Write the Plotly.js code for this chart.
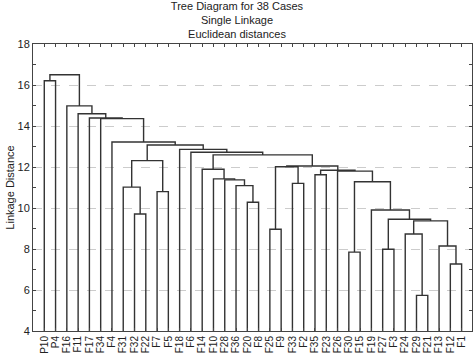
<!DOCTYPE html>
<html><head><meta charset="utf-8">
<script src="https://cdn.plot.ly/plotly-3.0.1.min.js"></script>
<style>html,body{margin:0;padding:0;background:#fff}#chart{width:474px;height:353px}</style>
</head><body><div id="chart"></div>
<script>
// Leaf order along the x axis
const leafLabels = ["P10","P4","F16","F11","F17","F34","F4","F31","F32","F22","F7","F5",
  "F18","F6","F14","F10","F28","F36","F20","F8","F25","F9","F33","F2","F35","F23","F26",
  "F30","F15","F19","F27","F3","F24","F29","F21","F13","F12","F1"];

// Linkage: child ids (0..37 = leaves, 38+k = k-th merge) and merge distance
const mergeLeft   = [33,36,27,30,35,32,20,43,41, 8,29,18,10, 7,17,22,40,16,15,24,26,57,14,44,61,51,60,13,12,63, 6, 5, 4, 3, 2, 0,73];
const mergeRight  = [34,37,28,31,39,38,21,42,45, 9,46,19,11,47,49,23,48,52,55,25,54,58,56,53,59,50,62,64,65,66,67,68,69,70,71, 1,72];
const mergeHeight = [5.74,7.27,7.85,7.99,8.15,8.73,8.96,9.37,9.45,9.71,9.90,10.28,10.80,11.02,11.09,11.20,
  11.28,11.37,11.42,11.62,11.80,11.84,11.89,12.01,12.05,12.31,12.59,12.72,12.86,13.07,13.22,14.36,14.39,
  14.60,14.98,16.21,16.50];

const yTicks = [4,6,8,10,12,14,16,18];
const baseHeight = 4;

const n = leafLabels.length;
const pos = [], hgt = [];
for (let i = 0; i < n; i++) { pos.push(i + 1); hgt.push(baseHeight); }
const xs = [], ys = [];
for (let k = 0; k < mergeHeight.length; k++) {
  const l = mergeLeft[k], r = mergeRight[k], h = mergeHeight[k];
  xs.push(pos[l], pos[l], pos[r], pos[r], null);
  ys.push(hgt[l], h, h, hgt[r], null);
  pos.push((pos[l] + pos[r]) / 2);
  hgt.push(h);
}

const font = 'Liberation Sans, Arial, sans-serif';
const trace = {
  x: xs, y: ys, type: 'scatter', mode: 'lines',
  line: {color: '#333333', width: 1.4}, hoverinfo: 'skip', connectgaps: false
};

const layout = {
  width: 474, height: 353,
  margin: {l: 33, r: 2, t: 44, b: 22},
  paper_bgcolor: '#ffffff', plot_bgcolor: '#ffffff',
  showlegend: false,
  font: {family: font, size: 11, color: '#222'},
  title: {
    text: 'Tree Diagram for 38 Cases<br>Single Linkage<br>Euclidean distances',
    x: 0.5, xref: 'container', xanchor: 'center',
    y: 0.972, yref: 'container', yanchor: 'top',
    font: {family: font, size: 11, color: '#222'}
  },
  xaxis: {
    range: [0, 38.92], tickmode: 'array',
    tickvals: leafLabels.map((_, i) => i + 1), ticktext: leafLabels,
    tickangle: -90, tickfont: {family: font, size: 10, color: '#222'},
    ticks: 'inside', ticklen: 3, tickcolor: '#444', mirror: 'allticks',
    showline: true, linecolor: '#444', linewidth: 1,
    showgrid: false, zeroline: false, fixedrange: true
  },
  yaxis: {
    range: [4, 18], tickmode: 'array', tickvals: yTicks,
    tickfont: {family: font, size: 11, color: '#222'},
    ticks: 'inside', ticklen: 3, tickcolor: '#444', mirror: 'allticks',
    minor: {dtick: 1, tick0: 4, ticks: 'inside', ticklen: 3, tickcolor: '#444', showgrid: false},
    showline: true, linecolor: '#444', linewidth: 1,
    showgrid: true, gridcolor: '#cccccc', griddash: 'dash', gridwidth: 1,
    zeroline: false, fixedrange: true,
    title: {text: 'Linkage Distance', font: {family: font, size: 11, color: '#222'}, standoff: 0}
  }
};

Plotly.newPlot('chart', [trace], layout, {staticPlot: true, displayModeBar: false});
</script>
</body></html>
